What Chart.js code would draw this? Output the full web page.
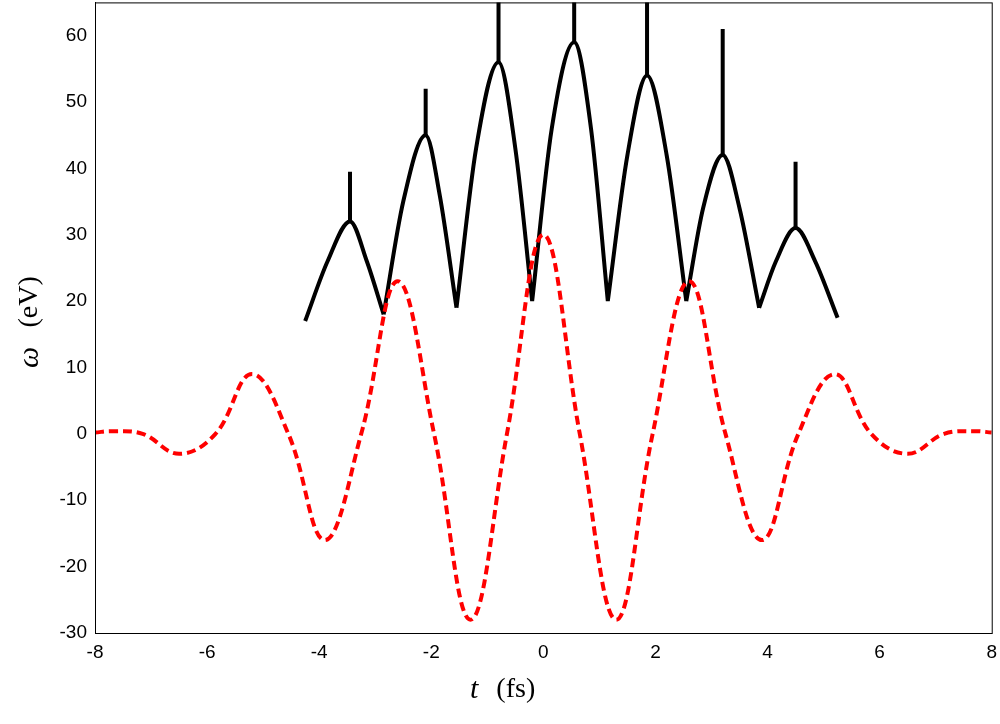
<!DOCTYPE html>
<html>
<head>
<meta charset="utf-8">
<script src="https://cdn.jsdelivr.net/npm/chart.js@4/dist/chart.umd.min.js"></script>
<style>
  body { margin: 0; background: #fff; overflow: hidden; }
  #wrap { width: 1000px; height: 724px; overflow: hidden; position: relative; }
  #inner { position: absolute; top: -12px; left: 0; width: 1000px; height: 740px; }
</style>
</head>
<body>
<div id="wrap"><div id="inner"><canvas id="c"></canvas></div></div>
<script>
// red dashed field
const redT = [-8, -7.7, -7.15, -6.5, -5.85, -5.2, -4.55, -3.9, -3.25, -2.6, -1.95, -1.3, -0.65, 0,
              0.65, 1.3, 1.95, 2.6, 3.25, 3.9, 4.55, 5.2, 5.85, 6.5, 7.15, 7.7, 8];
const redW = [0.2, 0.4, 0, -3, 0, 9, 0, -16, 0, 23, 0, -28, 0, 30,
              0, -28, 0, 23, 0, -16, 0, 9, 0, -3, 0, 0.4, 0.2];

// black arcs, null splits the cusps
const blackT = [-4.25, -3.85, -3.45, -3.15, -2.85, -2.85, -2.85, -2.5, -2.1, -1.85, -1.55, -1.55,
                -1.55, -1.2, -0.8, -0.5, -0.2, -0.2, -0.2, 0.15, 0.55, 0.85, 1.15, 1.15,
                1.15, 1.5, 1.85, 2.2, 2.55, 2.55, 2.55, 2.85, 3.2, 3.5, 3.85, 3.85,
                3.85, 4.15, 4.5, 4.85, 5.25];
const blackW = [17, 26, 32, 26, 18, null, 18, 35, 45, 36, 19, null,
                19, 43, 56, 43, 20, null, 20, 46, 59, 46, 20, null,
                20, 42, 54, 42, 20, null, 20, 34, 42, 34, 19, null,
                19, 26, 31, 26, 17.5];

// vertical spikes on top of each arc
const spikeT = [-3.45, -2.1, -0.8, 0.55, 1.85, 3.2, 4.5];
const spikeLo = [32, 45, 56, 59, 54, 42, 31];
const spikeHi = [39.5, 52, 66, 66, 66, 61, 41];

const xTicks = [-8, -6, -4, -2, 0, 2, 4, 6, 8];
const yTicks = [-30, -20, -10, 0, 10, 20, 30, 40, 50, 60];

const spikes = spikeT.map((t, i) => ({
  data: [{ x: t, y: spikeLo[i] }, { x: t, y: spikeHi[i] }],
  borderColor: '#000', borderWidth: 4, pointRadius: 0
}));

const frame = {
  id: 'frame',
  afterDraw(chart) {
    const { ctx, chartArea: a } = chart;
    ctx.save();
    ctx.strokeStyle = '#000';
    ctx.lineWidth = 1;
    ctx.strokeRect(a.left + 0.5, a.top + 0.5, a.right - a.left, a.bottom - a.top);
    ctx.fillStyle = '#000';
    ctx.textBaseline = 'middle';
    // x title: italic t, upright (fs)
    let y = 702, x = 470;
    ctx.font = 'italic 30px "Liberation Serif"';
    ctx.fillText('t', x, y);
    x += ctx.measureText('t').width + 18;
    ctx.font = '28px "Liberation Serif"';
    ctx.fillText('(fs)', x, y);
    // y title rotated
    ctx.translate(30, 330);
    ctx.rotate(-Math.PI / 2);
    ctx.font = 'italic 30px "Liberation Serif"';
    ctx.fillText('ω', -50, 0);
    ctx.font = '28px "Liberation Serif"';
    ctx.fillText('(eV)', -50 + ctx.measureText('ω').width + 22, 0);
    ctx.restore();
  }
};

new Chart(document.getElementById('c'), {
  type: 'line',
  data: {
    datasets: [
      { data: redT.map((t, i) => ({ x: t, y: redW[i] })), borderColor: '#ff0000', borderWidth: 4,
        borderDash: [9, 5], pointRadius: 0, tension: 0.4 },
      { data: blackT.map((t, i) => ({ x: t, y: blackW[i] })), borderColor: '#000', borderWidth: 4,
        pointRadius: 0, cubicInterpolationMode: 'monotone', spanGaps: false },
      ...spikes
    ]
  },
  options: {
    responsive: true, maintainAspectRatio: false, animation: false,
    layout: { padding: { top: 0, right: 7, left: 0, bottom: 0 } },
    plugins: { legend: { display: false }, tooltip: { enabled: false } },
    scales: {
      x: {
        type: 'linear', min: -8, max: 8,
        afterBuildTicks: ax => { ax.ticks = xTicks.map(v => ({ value: v })); },
        afterFit: ax => { ax.height = 95; },
        grid: { display: false, tickLength: 5 },
        border: { color: '#000' },
        ticks: { color: '#000', font: { family: 'Liberation Sans', size: 19 }, maxRotation: 0 }
      },
      y: {
        min: -30, max: 65,
        afterBuildTicks: ax => { ax.ticks = yTicks.map(v => ({ value: v })); },
        afterFit: ax => { ax.width = 95; },
        grid: { display: false, tickLength: 5 },
        border: { color: '#000' },
        ticks: { color: '#000', font: { family: 'Liberation Sans', size: 19 } }
      }
    }
  },
  plugins: [frame]
});
</script>
</body>
</html>
